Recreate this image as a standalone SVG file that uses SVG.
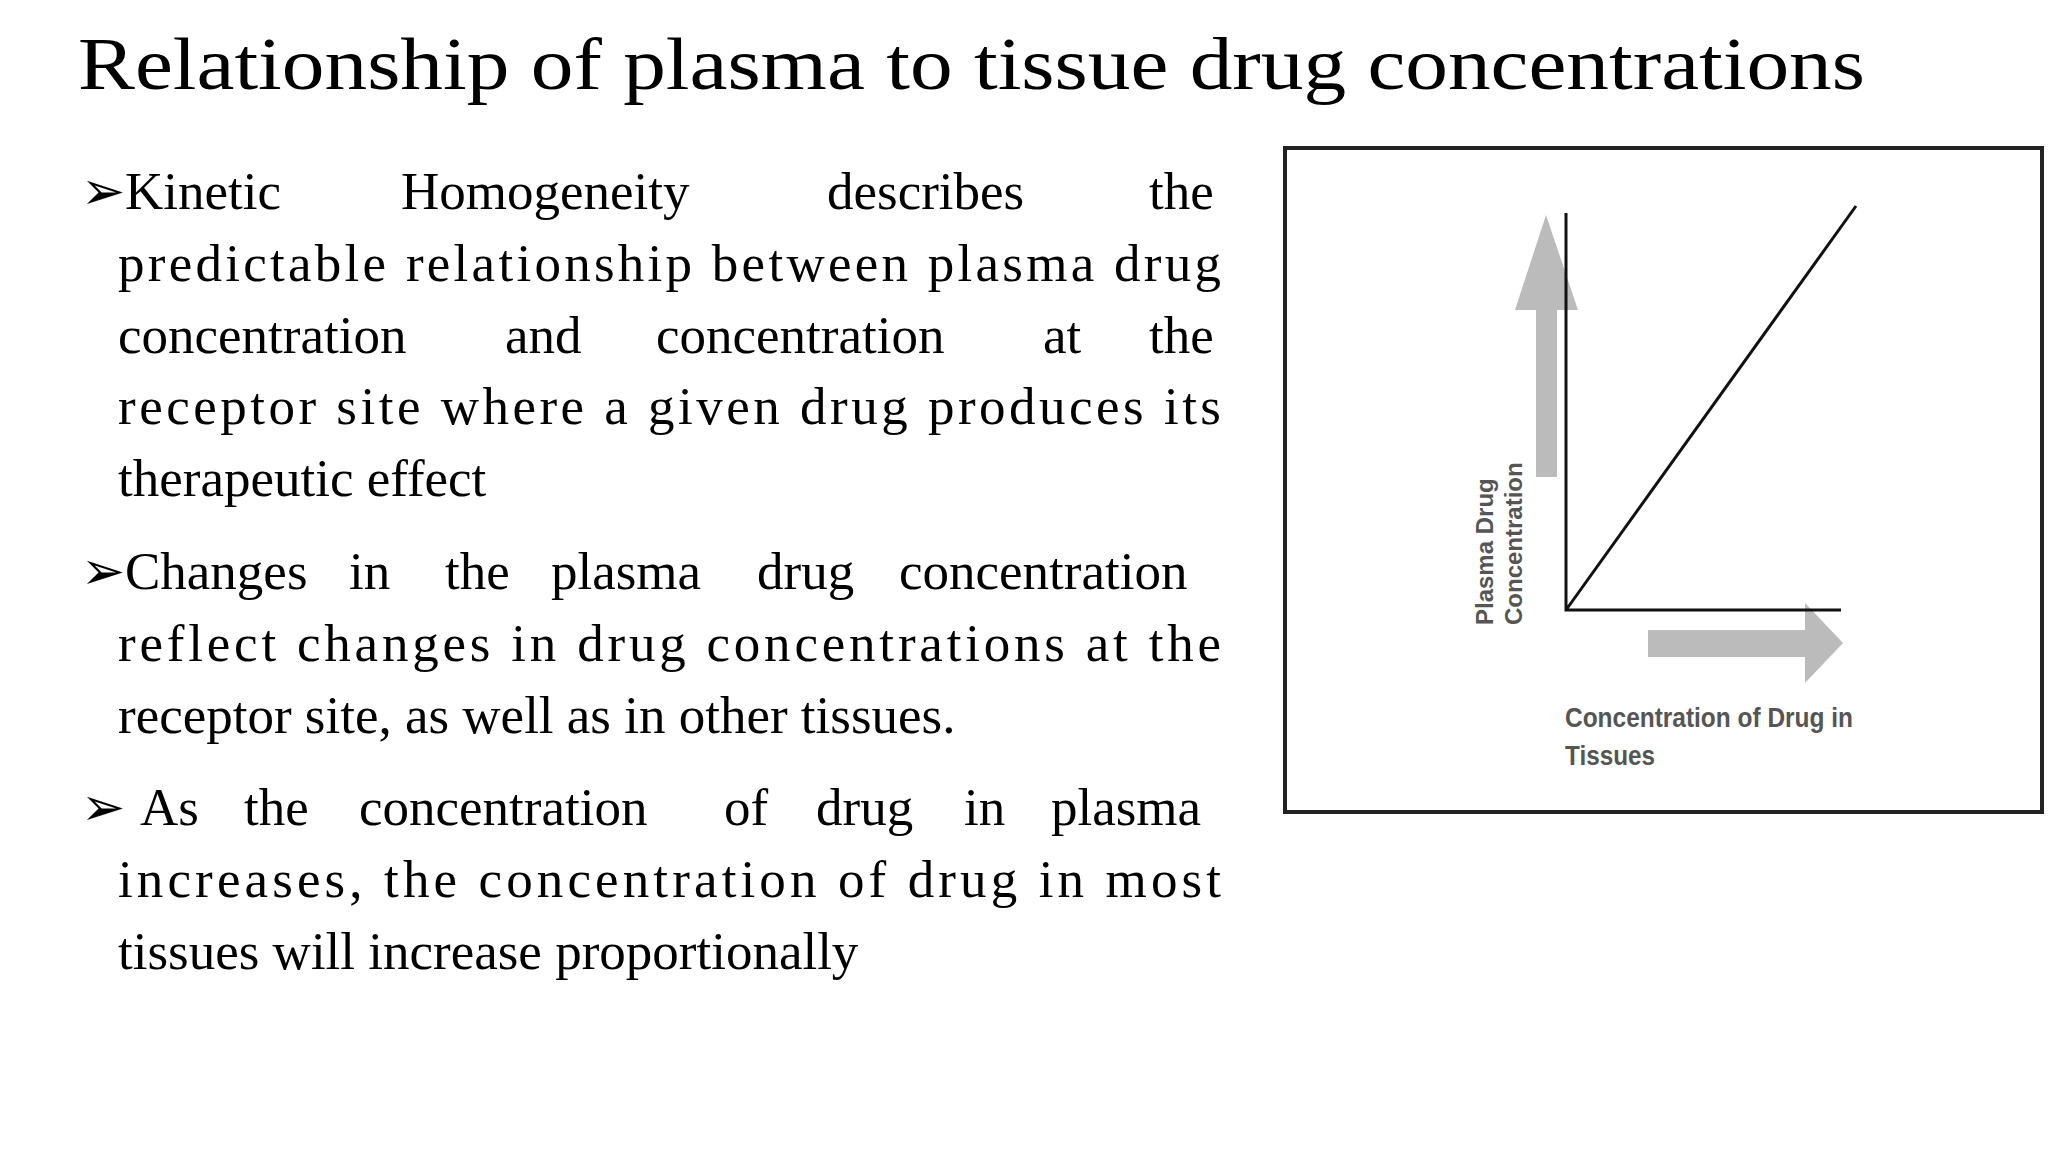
<svg xmlns="http://www.w3.org/2000/svg" width="2048" height="1152" viewBox="0 0 2048 1152">
<style>
.t{font-family:"Liberation Serif",serif;font-size:53px;fill:#000}
.g{font-family:"Liberation Sans",sans-serif;fill:#555;font-weight:bold}
</style>
<rect width="2048" height="1152" fill="#fff"/>
<g id="title"><text x="78" y="89" font-family="Liberation Serif,serif" font-size="74" textLength="1787" lengthAdjust="spacingAndGlyphs">Relationship of plasma to tissue drug concentrations</text></g>
<g id="body" class="t">
<text class="t" y="209"><tspan x="81">➢</tspan><tspan x="125">Kinetic</tspan><tspan x="401">Homogeneity</tspan><tspan x="827">describes</tspan><tspan x="1149">the</tspan></text>
<text class="t" x="118" y="281" textLength="1103" lengthAdjust="spacing">predictable relationship between plasma drug</text>
<text class="t" y="353"><tspan x="118">concentration</tspan><tspan x="505">and</tspan><tspan x="656">concentration</tspan><tspan x="1043">at</tspan><tspan x="1149">the</tspan></text>
<text class="t" x="118" y="424" textLength="1103" lengthAdjust="spacing">receptor site where a given drug produces its</text>
<text class="t" x="118" y="496">therapeutic effect</text>
<text class="t" y="589"><tspan x="81">➢</tspan><tspan x="125">Changes</tspan><tspan x="349">in</tspan><tspan x="445">the</tspan><tspan x="551">plasma</tspan><tspan x="757">drug</tspan><tspan x="899">concentration</tspan></text>
<text class="t" x="118" y="661" textLength="1103" lengthAdjust="spacing">reflect changes in drug concentrations at the</text>
<text class="t" x="118" y="733">receptor site, as well as in other tissues.</text>
<text class="t" y="825"><tspan x="81">➢</tspan><tspan x="140">As</tspan><tspan x="244">the</tspan><tspan x="359">concentration</tspan><tspan x="724">of</tspan><tspan x="816">drug</tspan><tspan x="964">in</tspan><tspan x="1051">plasma</tspan></text>
<text class="t" x="118" y="897" textLength="1103" lengthAdjust="spacing">increases, the concentration of drug in most</text>
<text class="t" x="118" y="969">tissues will increase proportionally</text>
</g>
<g id="chart">
<rect x="1285" y="148" width="757" height="664" fill="#fff" stroke="#222" stroke-width="4"/>
<polygon points="1536,477 1536,310 1515,310 1546,215 1578,310 1557,310 1557,477" fill="#bbb"/>
<polygon points="1648,630 1805,630 1805,603 1843,643 1805,683 1805,657 1648,657" fill="#bbb"/>
<path d="M1566,213 V610 H1841 M1566,610 L1856,206" fill="none" stroke="#111" stroke-width="3"/>
<text class="g" font-size="24" transform="translate(1493,625) rotate(-90)">Plasma Drug</text>
<text class="g" font-size="24" transform="translate(1522,625) rotate(-90)">Concentration</text>
<text class="g" font-size="28" font-weight="normal" x="1565" y="727" textLength="288" lengthAdjust="spacingAndGlyphs">Concentration of Drug in</text>
<text class="g" font-size="28" font-weight="normal" x="1565" y="765" textLength="90" lengthAdjust="spacingAndGlyphs">Tissues</text>
</g>
</svg>
